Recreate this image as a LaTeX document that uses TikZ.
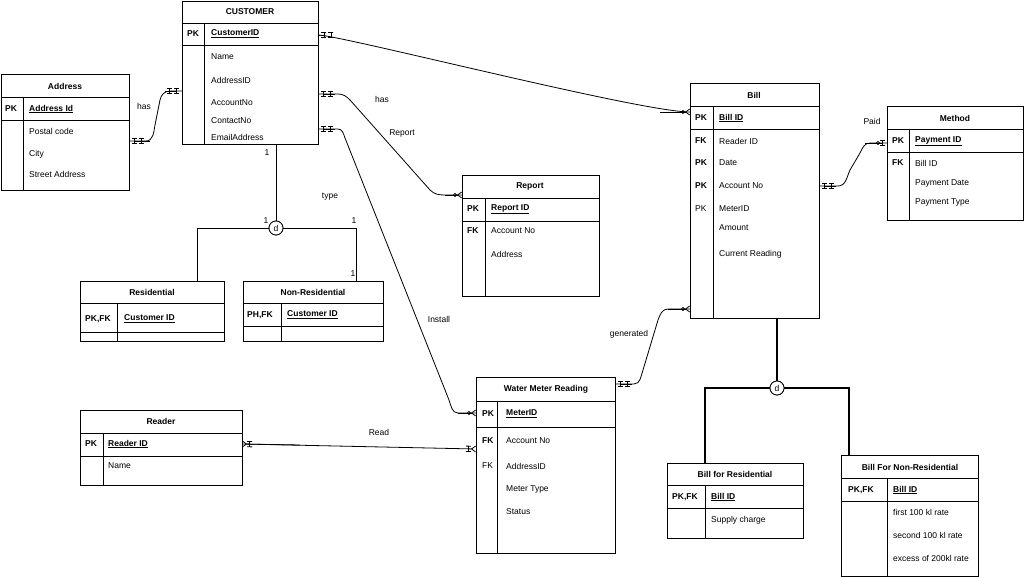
\documentclass[tikz,border=0pt]{standalone}
\usepackage{fontspec}
\setmainfont{Liberation Sans}
\usetikzlibrary{fit,arrows.meta}
\newcommand\ertab[8]{% name x1 y1 x2 y2 titlebottom pkbottom divider
  \node[fit={(#2,#3)(#4,#5)},inner sep=0pt,draw,line width=0.9pt] (#1) {};
  \draw[line width=0.9pt] (#2,#6) -- (#4,#6) (#2,#7) -- (#4,#7) (#8,#6) -- (#8,#5);
}
\tikzset{
  txt/.style={anchor=west,inner sep=0pt,font=\fontsize{8.5}{10}\selectfont},
  ttl/.style={inner sep=0pt,font=\fontsize{8.5}{10}\selectfont\bfseries},
  key/.style={anchor=west,inner sep=0pt,font=\fontsize{8.5}{10}\selectfont\bfseries},
  pk/.style={anchor=west,inner sep=0pt,font=\fontsize{8.5}{10}\selectfont\bfseries},
  lbl/.style={inner sep=0pt,font=\fontsize{8.5}{10}\selectfont},
  conn/.style={line width=0.8pt},
  one/.style={-{Bar[length=5pt,sep=2pt]Bar[length=5pt,sep=3pt]}},
  zm/.style={-{Circle[open,length=4pt,sep=0pt]Straight Barb[reversed,length=4pt,width=6pt]}},
  om/.style={-{Bar[length=5pt,sep=0pt]Straight Barb[reversed,length=4pt,width=6pt]}},
  zo/.style={-{Circle[open,length=4pt,sep=0pt]Bar[length=5pt,sep=2pt]}},
  dcirc/.style={circle,draw,fill=white,line width=0.8pt,minimum size=14pt,inner sep=0pt,font=\fontsize{8.5}{10}\selectfont},
}
\newcommand\ul[1]{\underline{#1}}
\begin{document}
\begin{tikzpicture}[x=1pt,y=-1pt]
\useasboundingbox (0,0) rectangle (1024,577);
% CUSTOMER
\ertab{cust}{182}{1}{318}{144}{23}{45}{204}
\node[ttl] at (250,12) {CUSTOMER};
\node[key] at (187,34) {PK}; \node[pk] at (211,34) {\ul{CustomerID}};
\foreach \t/\y in {Name/57,AddressID/80,AccountNo/103,ContactNo/121,EmailAddress/137}
  \node[txt] at (211,\y) {\t};
% Address
\ertab{addr}{1}{74}{129}{190}{97}{120}{23}
\node[ttl] at (65,86) {Address};
\node[key] at (5,109) {PK}; \node[pk] at (29,109) {\ul{Address Id}};
\foreach \t/\y in {Postal code/131,City/154,Street Address/174}
  \node[txt] at (29,\y) {\t};
% Residential
\ertab{res}{80}{281}{224}{341}{303}{332}{117}
\node[ttl] at (152,292) {Residential};
\node[key] at (85,319) {PK,FK}; \node[pk] at (124,319) {\ul{Customer ID}};
% Non-Residential
\ertab{nres}{243}{281}{383}{341}{303}{326}{281}
\node[ttl] at (313,292) {Non-Residential};
\node[key] at (247,315) {PH,FK}; \node[pk] at (287,315) {\ul{Customer ID}};
% Report
\ertab{rep}{462}{175}{599}{296}{198}{221}{485}
\node[ttl] at (530,186) {Report};
\node[key] at (467,209) {PK}; \node[pk] at (491,209) {\ul{Report ID}};
\node[key] at (467,231) {FK}; \node[txt] at (491,231) {Account No};
\node[txt] at (491,254) {Address};
% Bill
\ertab{bill}{690}{83}{819}{318}{106}{129}{713}
\node[ttl] at (754,95) {Bill};
\node[key] at (695,118) {PK}; \node[pk] at (719,118) {\ul{Bill ID}};
\node[key] at (695,141) {FK}; \node[txt] at (719,141) {Reader ID};
\node[key] at (695,163) {PK}; \node[txt] at (719,163) {Date};
\node[key] at (695,186) {PK}; \node[txt] at (719,186) {Account No};
\node[txt] at (695,209) {PK}; \node[txt] at (719,209) {MeterID};
\node[txt] at (719,228) {Amount};
\node[txt] at (719,254) {Current Reading};
% Method
\ertab{meth}{887}{106}{1023}{220}{129}{152}{909}
\node[ttl] at (955,118) {Method};
\node[key] at (892,141) {PK}; \node[pk] at (915,141) {\ul{Payment ID}};
\node[key] at (892,163) {FK}; \node[txt] at (915,163) {Bill ID};
\node[txt] at (915,183) {Payment Date};
\node[txt] at (915,202) {Payment Type};
% Water Meter Reading
\ertab{wmr}{476}{377}{615}{553}{401}{427}{497}
\node[ttl] at (546,389) {Water Meter Reading};
\node[key] at (482,414) {PK}; \node[pk] at (506,414) {\ul{MeterID}};
\node[key] at (482,441) {FK}; \node[txt] at (506,441) {Account No};
\node[txt] at (482,466) {FK}; \node[txt] at (506,466) {AddressID};
\node[txt] at (506,489) {Meter Type};
\node[txt] at (506,512) {Status};
% Reader
\ertab{rdr}{80}{410}{242}{485}{433}{456}{103}
\node[ttl] at (161,421) {Reader};
\node[key] at (85,444) {PK}; \node[pk] at (108,444) {\ul{Reader ID}};
\node[txt] at (108,466) {Name};
% Bill for Residential
\ertab{bfr}{667}{463}{803}{538}{485}{508}{705}
\node[ttl] at (735,474) {Bill for Residential};
\node[key] at (672,497) {PK,FK}; \node[pk] at (711,497) {\ul{Bill ID}};
\node[txt] at (711,520) {Supply charge};
% Bill For Non-Residential
\ertab{bfnr}{841}{455}{978}{576}{478}{501}{887}
\node[ttl] at (910,467) {Bill For Non-Residential};
\node[key] at (848,490) {PK,FK}; \node[pk] at (893,490) {\ul{Bill ID}};
\node[txt] at (893,512) {first 100 kl rate};
\node[txt] at (893,535) {second 100 kl rate};
\node[txt] at (893,558) {excess of 200kl rate};
% connector end coordinates
\coordinate (c1) at (318,35); \coordinate (b1) at (690,112);
\coordinate (a1) at (129,141); \coordinate (c2) at (182,91);
\coordinate (c3) at (318,94); \coordinate (r1) at (462,195);
\coordinate (c4) at (318,129); \coordinate (w1) at (476,413);
\coordinate (b2) at (819,186); \coordinate (m1) at (887,143);
\coordinate (w2) at (615,384); \coordinate (b3) at (690,309);
\coordinate (rd1) at (242,444); \coordinate (w3) at (476,449);
\coordinate (cb) at (276,144); \coordinate (rt) at (197,281); \coordinate (nt) at (356,281);
\coordinate (bb) at (777,318); \coordinate (brt) at (705,463); \coordinate (bnt) at (849,455);
% circles
\node[dcirc] (d1) at (276,228) {d};
\node[dcirc] (d2) at (777,388) {d};
% connectors
\draw[conn,one] (c1) to[out=180,in=0] (cust.east|-c1);
\draw[conn] (c1) .. controls (340,35) and (640,112) .. (b1);
\draw[conn,zm] (660,112) -- (b1);
\draw[conn,one] (165,91) -- (c2);
\draw[conn,one] (150,141) -- (a1);
\draw[conn] (a1) -- (146,141) to[out=0,in=-100] (155,125) -- (160,100) to[out=80,in=180] (170,91) -- (c2);
\draw[conn,one] (335,94) -- (c3);
\draw[conn] (c3) -- (338,94) to[out=0,in=135] (350,100) -- (430,190) to[out=-45,in=180] (445,195) -- (r1);
\draw[conn,zm] (445,195) -- (r1);
\draw[conn,one] (335,129) -- (c4);
\draw[conn] (c4) -- (338,129) to[out=0,in=110] (345,138) -- (449,400) to[out=-70,in=180] (458,413) -- (w1);
\draw[conn,zm] (458,413) -- (w1);
\draw[conn,one] (836,186) -- (b2);
\draw[conn] (b2) -- (838,186) to[out=0,in=-115] (850,170) -- (860,153) to[out=65,in=180] (870,143) -- (m1);
\draw[conn,zo] (865,143) -- (m1);
\draw[conn,one] (632,384) -- (w2);
\draw[conn] (w2) -- (634,384) to[out=0,in=-110] (643,370) -- (658,320) to[out=70,in=180] (668,309) -- (b3);
\draw[conn,zm] (668,309) -- (b3);
\draw[conn,om] (300,445) -- (rd1);
\draw[conn,om] (rd1) -- (w3);
\draw[conn] (cb) -- (d1);
\draw[conn] (d1) -- (197,228) -- (rt);
\draw[conn] (d1) -- (356,228) -- (nt);
\draw[conn,line width=1.4pt] (bb) -- (d2);
\draw[conn,line width=1.4pt] (d2) -- (705,388) -- (brt);
\draw[conn,line width=1.4pt] (d2) -- (849,388) -- (bnt);
\node[dcirc] at (276,228) {d};
\node[dcirc] at (777,388) {d};
% labels
\node[lbl] at (144,106) {has};
\node[lbl] at (382,99) {has};
\node[lbl] at (402,133) {Report};
\node[lbl] at (439,319) {Install};
\node[lbl] at (330,197) {type};
\node[lbl] at (267,153) {1};
\node[lbl] at (266,221) {1};
\node[lbl] at (354,221) {1};
\node[lbl] at (353,274) {1};
\node[lbl] at (872,121) {Paid};
\node[lbl] at (629,334) {generated};
\node[lbl] at (379,432) {Read};
\end{tikzpicture}
\end{document}
